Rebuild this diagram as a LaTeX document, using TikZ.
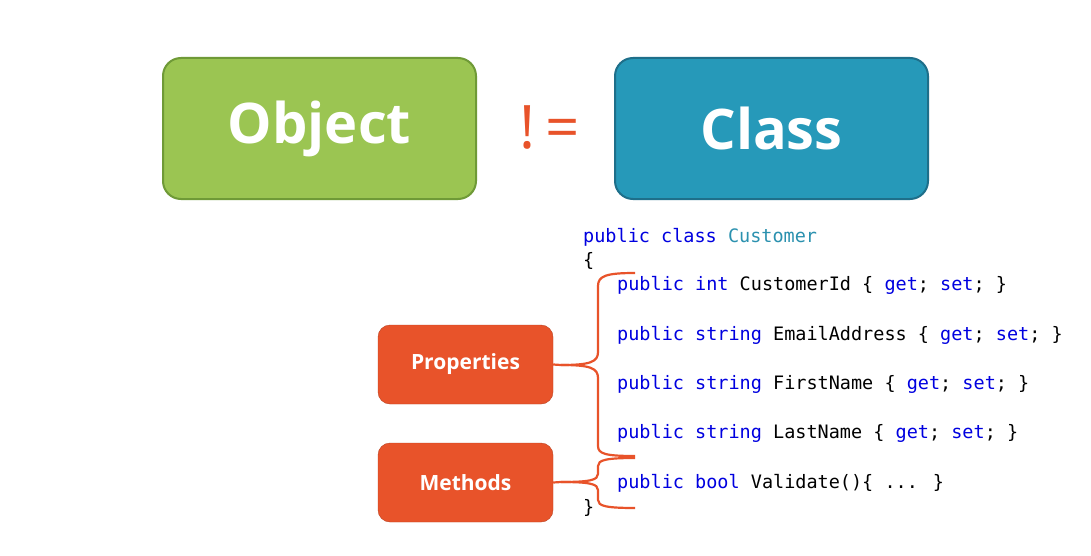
\documentclass[tikz,border=0pt]{standalone}
\usepackage{fontspec}
\setmainfont{Open Sans}
\newfontfamily\codefont{DejaVu Sans Mono}
\definecolor{ogreen}{HTML}{9BC552}
\definecolor{ogreenb}{HTML}{6F9A37}
\definecolor{cblue}{HTML}{2699B9}
\definecolor{cblueb}{HTML}{1E6F8A}
\definecolor{orng}{HTML}{E8532A}
\definecolor{kw}{HTML}{0000E0}
\definecolor{tp}{HTML}{2B91AF}
\begin{document}
\begin{tikzpicture}[x=1pt,y=-1pt,
  bigbox/.style={rounded corners=18pt,line width=2pt,minimum width=313pt,minimum height=141pt,text=white,font=\fontsize{56}{60}\selectfont\bfseries},
  tagbox/.style={rounded corners=12pt,fill=orng,draw=orng!80!black,minimum width=175pt,minimum height=79pt,text=white,font=\fontsize{21}{24}\selectfont\bfseries},
  code/.style={anchor=base west,inner sep=0pt,font=\codefont\fontsize{18.5}{22}\selectfont},
  brace/.style={draw=orng,line width=2.2pt}]
\useasboundingbox (0,0) rectangle (1091,556);
\fill[white] (0,0) rectangle (1091,556);
\node[bigbox,fill=ogreen,draw=ogreenb] (obj) at (319.5,128.5) {Object};
\node[bigbox,fill=cblue,draw=cblueb] (cls) at (771.5,128.5) {Class};
\node[text=orng,font=\fontsize{60}{60}\selectfont] (neq) at (550,128) {!\,=};
\node[tagbox] (prop) at (465.5,364.5) {Properties};
\node[tagbox] (meth) at (465.5,482.5) {Methods};
\node[code] (l0) at (583,242) {\textcolor{kw}{public class} \textcolor{tp}{Customer}};
\node[code] (l1) at (583,266) {\{};
\node[code] (l2) at (617,290) {\textcolor{kw}{public int} CustomerId \{ \textcolor{kw}{get}; \textcolor{kw}{set}; \}};
\node[code] (l3) at (617,340) {\textcolor{kw}{public string} EmailAddress \{ \textcolor{kw}{get}; \textcolor{kw}{set}; \}};
\node[code] (l4) at (617,389) {\textcolor{kw}{public string} FirstName \{ \textcolor{kw}{get}; \textcolor{kw}{set}; \}};
\node[code] (l5) at (617,438) {\textcolor{kw}{public string} LastName \{ \textcolor{kw}{get}; \textcolor{kw}{set}; \}};
\node[code] (l6) at (617,488) {\textcolor{kw}{public bool} Validate()\{ ... \}};
\node[code] (l7) at (583,513) {\}};
\coordinate (p1) at (prop.east);
\coordinate (m1) at (meth.east);
\path[brace] (p1) -- (561,365) .. controls (590,365) and (598,362) .. (598,352)
  -- (598,286) .. controls (598,276) and (606,273) .. (635,273);
\path[brace] (561,365) .. controls (590,365) and (598,368) .. (598,378)
  -- (598,446) .. controls (598,454) and (606,456) .. (635,456);
\path[brace] (m1) -- (561,482) .. controls (590,482) and (598,480) .. (598,474)
  -- (598,466) .. controls (598,460) and (606,458) .. (635,458);
\path[brace] (561,482) .. controls (590,482) and (598,484) .. (598,490)
  -- (598,500) .. controls (598,506) and (606,508) .. (635,508);
\end{tikzpicture}
\end{document}
